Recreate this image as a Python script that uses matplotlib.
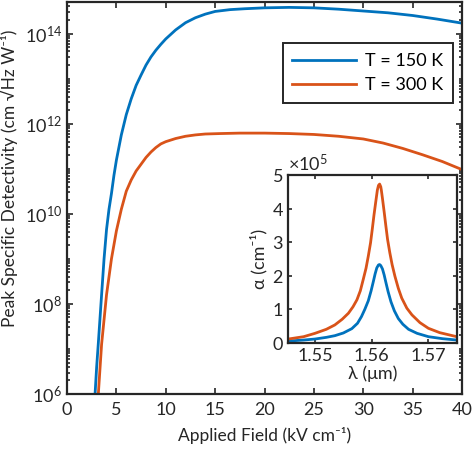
import numpy as np
import matplotlib
matplotlib.use("Agg")
import matplotlib.pyplot as plt
from matplotlib.ticker import LogLocator, LogFormatterSciNotation, MultipleLocator, NullFormatter

plt.rcParams['font.family'] = ['Lato', 'DejaVu Sans']
plt.rcParams['mathtext.fontset'] = 'custom'
plt.rcParams['mathtext.rm'] = 'Lato'
plt.rcParams['mathtext.it'] = 'Lato:italic'

# ---- main plot data: applied field (kV/cm) vs log10(D*) ----
field_150 = [2.84, 3.0, 3.17, 3.5, 3.75, 4.0, 4.25, 4.5, 4.75, 5.0, 5.5, 6.0,
             6.5, 7.0, 7.5, 8.0, 8.5, 9.0, 9.5, 10.0, 10.5, 11.0, 12.0, 13.0,
             14.0, 15.0, 16.5, 18.0, 20.0, 22.5, 25.0, 27.5, 30.0, 32.5, 35.0,
             37.5, 40.0]
logD_150 = [6.0, 6.6, 7.13, 8.2, 9.0, 9.65, 10.1, 10.45, 10.85, 11.19, 11.75, 12.2,
            12.55, 12.85, 13.08, 13.3, 13.48, 13.63, 13.76, 13.88, 13.98, 14.08, 14.24, 14.35,
            14.43, 14.49, 14.53, 14.55, 14.57, 14.58, 14.57, 14.54, 14.5, 14.46, 14.4,
            14.32, 14.23]

field_300 = [3.17, 3.5, 4.0, 4.5, 5.0, 5.5, 6.0, 6.5, 7.0, 7.5, 8.0, 8.5, 9.0,
             9.5, 10.0, 11.0, 12.0, 13.0, 14.0, 15.5, 17.5, 20.0, 22.5, 25.0,
             27.5, 30.0, 32.0, 34.0, 36.0, 38.0, 40.0]
logD_300 = [6.0, 7.1, 8.2, 9.0, 9.62, 10.1, 10.5, 10.75, 10.95, 11.1, 11.25, 11.37, 11.47,
            11.55, 11.6, 11.67, 11.72, 11.75, 11.77, 11.78, 11.79, 11.79, 11.78, 11.76,
            11.72, 11.66, 11.57, 11.45, 11.31, 11.16, 10.98]

# ---- inset data: wavelength (um) vs absorption (x1e5 cm^-1) ----
lam_300 = [1.5453, 1.5480, 1.5500, 1.5520, 1.5535, 1.5548, 1.5559, 1.5567, 1.5574,
           1.5580, 1.5585, 1.5590, 1.5594, 1.5598, 1.5601, 1.5604, 1.5607, 1.5610,
           1.5612, 1.5614, 1.5616, 1.5617, 1.5619, 1.5622, 1.5625, 1.5628, 1.5632,
           1.5636, 1.5641, 1.5647, 1.5653, 1.5662, 1.5671, 1.5685, 1.5700, 1.5720,
           1.5750]
alpha_300 = [0.11, 0.18, 0.28, 0.40, 0.53, 0.70, 0.88, 1.07, 1.28,
             1.55, 1.88, 2.22, 2.58, 2.98, 3.38, 3.80, 4.18, 4.55,
             4.69, 4.73, 4.65, 4.55, 4.30, 3.90, 3.48, 3.08, 2.68,
             2.33, 1.98, 1.62, 1.33, 1.03, 0.83, 0.60, 0.43, 0.30,
             0.18]

lam_150 = [1.5453, 1.5480, 1.5500, 1.5520, 1.5535, 1.5550, 1.5565, 1.5575, 1.5582,
           1.5588, 1.5594, 1.5599, 1.5603, 1.5606, 1.5609, 1.5612, 1.5614, 1.5616,
           1.5619, 1.5622, 1.5625, 1.5629, 1.5634, 1.5640, 1.5647, 1.5655, 1.5665,
           1.5680, 1.5700, 1.5725, 1.5750]
alpha_150 = [0.05, 0.08, 0.11, 0.16, 0.21, 0.29, 0.42, 0.58, 0.78,
             1.00, 1.25, 1.55, 1.83, 2.05, 2.23, 2.32, 2.33, 2.30,
             2.20, 2.02, 1.80, 1.52, 1.22, 0.95, 0.72, 0.55, 0.40,
             0.28, 0.18, 0.12, 0.08]

blue = '#0072BD'
orange = '#D95319'
axcol = '#262626'

fig = plt.figure(figsize=(4.74, 4.5), dpi=100)
ax = fig.add_axes([0.1414, 0.1244, 0.8333, 0.8711])

ax.plot(field_150, 10 ** np.array(logD_150), color=blue, lw=2.0, label='T = 150 K')
ax.plot(field_300, 10 ** np.array(logD_300), color=orange, lw=2.0, label='T = 300 K')

ax.set_yscale('log')
ax.set_xlim(0, 40)
ax.set_ylim(1e6, 5e14)
ax.xaxis.set_major_locator(MultipleLocator(5))
ax.yaxis.set_major_locator(LogLocator(base=100))
ax.yaxis.set_major_formatter(LogFormatterSciNotation(base=10))
ax.yaxis.set_minor_locator(LogLocator(base=10, subs=np.arange(1, 10), numticks=50))
ax.yaxis.set_minor_formatter(NullFormatter())

for s in ax.spines.values():
    s.set_linewidth(1.6)
    s.set_color(axcol)
ax.tick_params(which='both', direction='in', top=True, right=True, colors=axcol,
               labelsize=13, width=1.2)
ax.tick_params(which='major', length=4)
ax.tick_params(which='minor', length=2.5)
ax.tick_params(axis='x', pad=6)

ax.set_xlabel('Applied Field (kV cm⁻¹)', fontsize=12.5, color=axcol, labelpad=6)
ax.set_ylabel('Peak Specific Detectivity (cm √Hz W⁻¹)', fontsize=12.5, color=axcol)
ax.yaxis.set_label_coords(-0.125, 0.55)

leg = ax.legend(loc='upper right', bbox_to_anchor=(0.9765, 0.8946), fontsize=13,
                frameon=True, fancybox=False, handlelength=3.5, borderpad=0.55,
                labelspacing=0.45, handletextpad=0.5, borderaxespad=0)
leg.get_frame().set_edgecolor(axcol)
leg.get_frame().set_linewidth(1.4)
leg.get_frame().set_alpha(1)

# ---- inset ----
ins = fig.add_axes([0.6083, 0.2384, 0.3553, 0.3727])
ins.plot(lam_150, np.array(alpha_150) * 1e5, color=blue, lw=2.0)
ins.plot(lam_300, np.array(alpha_300) * 1e5, color=orange, lw=2.0)
ins.set_xlim(1.5453, 1.575)
ins.set_ylim(0, 5e5)
ins.set_xticks([1.55, 1.56, 1.57])
ins.set_yticks(np.arange(0, 6) * 1e5)
ins.ticklabel_format(axis='y', style='sci', scilimits=(0, 0), useMathText=True)
ins.yaxis.get_offset_text().set_fontsize(13)
ins.yaxis.get_offset_text().set_color(axcol)
for s in ins.spines.values():
    s.set_linewidth(1.6)
    s.set_color(axcol)
ins.tick_params(direction='in', top=True, right=True, colors=axcol, labelsize=13,
                length=3, width=1.2)
ins.set_xlabel('λ (μm)', fontsize=13, color=axcol, labelpad=1)
ins.set_ylabel('α (cm⁻¹)', fontsize=13, color=axcol, labelpad=3)

fig.savefig('out.png', dpi=100)
